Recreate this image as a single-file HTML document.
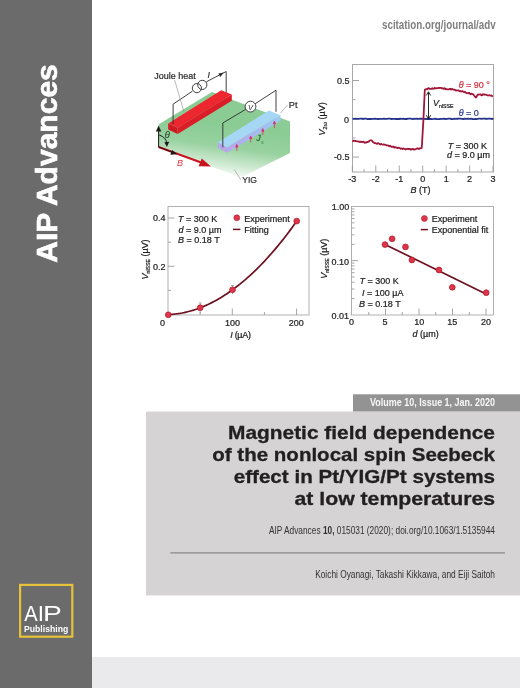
<!DOCTYPE html>
<html><head><meta charset="utf-8"><title>AIP Advances</title>
<style>
html,body{margin:0;padding:0;background:#fff;width:520px;height:688px;overflow:hidden}
svg{display:block}
text{font-family:"Liberation Sans",Arial,sans-serif}
.b{font-weight:bold}
.i{font-style:italic}
</style></head><body>
<svg width="520" height="688" viewBox="0 0 520 688">
<rect x="0" y="0" width="520" height="688" fill="#ffffff"/>
<!-- sidebar -->
<rect x="0" y="0" width="92" height="688" fill="#6b6b6b"/>
<text class="b" transform="translate(57 262.8) rotate(-90)" font-size="29" fill="#ffffff" stroke="#ffffff" stroke-width="0.6" textLength="198.6" lengthAdjust="spacingAndGlyphs">AIP Advances</text>
<!-- logo -->
<rect x="20.1" y="584.9" width="52.2" height="51.8" fill="none" stroke="#e6c23a" stroke-width="2.2"/>
<g fill="#ffffff" font-size="22.6"><text x="24.2" y="621.3" textLength="13.4" lengthAdjust="spacingAndGlyphs">A</text><text x="37.8" y="621.3">I</text><text x="42.9" y="621.3" textLength="18.8" lengthAdjust="spacingAndGlyphs">P</text></g>
<text class="b" x="24" y="631.7" font-size="9.6" fill="#ffffff" textLength="44.3" lengthAdjust="spacingAndGlyphs">Publishing</text>
<!-- header url -->
<text class="b" x="382" y="29.4" font-size="12.3" fill="#808080" textLength="113.7" lengthAdjust="spacingAndGlyphs">scitation.org/journal/adv</text>
<!-- bottom strip -->
<rect x="92" y="657" width="428" height="31" fill="#eaeaec"/>
<!-- banner -->
<rect x="353" y="394.3" width="167" height="17.4" fill="#939393"/>
<text class="b" x="370" y="406.3" font-size="10.6" fill="#f7f7f7" textLength="125" lengthAdjust="spacingAndGlyphs">Volume 10, Issue 1, Jan. 2020</text>
<!-- box -->
<rect x="146" y="411.6" width="374" height="183.8" fill="#d5d3d4"/>
<g class="b" fill="#231f20" stroke="#231f20" stroke-width="0.3" font-size="18.2">
<text x="228" y="439" textLength="267" lengthAdjust="spacingAndGlyphs">Magnetic field dependence</text>
<text x="212.3" y="461.1" textLength="282.7" lengthAdjust="spacingAndGlyphs">of the nonlocal spin Seebeck</text>
<text x="233.7" y="483.3" textLength="261.3" lengthAdjust="spacingAndGlyphs">effect in Pt/YIG/Pt systems</text>
<text x="294.5" y="505.3" textLength="200.5" lengthAdjust="spacingAndGlyphs">at low temperatures</text>
</g>
<text x="268.9" y="534.2" font-size="10.6" fill="#333333" textLength="226.1" lengthAdjust="spacingAndGlyphs">AIP Advances <tspan class="b">10,</tspan> 015031 (2020); doi.org/10.1063/1.5135944</text>
<line x1="170.4" y1="552.8" x2="505" y2="552.8" stroke="#8a8a8a" stroke-width="1.3"/>
<text x="315.2" y="577.9" font-size="10" fill="#333333" textLength="179.8" lengthAdjust="spacingAndGlyphs">Koichi Oyanagi, Takashi Kikkawa, and Eiji Saitoh</text>
<!-- FIGURES -->
<defs>
<linearGradient id="gslab" gradientUnits="userSpaceOnUse" x1="250" y1="130" x2="243" y2="180">
<stop offset="0" stop-color="#8bcc95"/><stop offset="0.4" stop-color="#98d2a0"/><stop offset="0.76" stop-color="#d2ebd5"/><stop offset="1" stop-color="#ffffff"/>
</linearGradient>
<linearGradient id="gpt" gradientUnits="userSpaceOnUse" x1="227" y1="0" x2="281" y2="0">
<stop offset="0" stop-color="#b7a8ea"/><stop offset="0.5" stop-color="#a9b8ee"/><stop offset="1" stop-color="#9ccaf2"/>
</linearGradient>
</defs>
<!-- YIG slab -->
<polygon points="158.8,124.2 212,92 290,121.5 290,153 241,177.4 158,147" fill="url(#gslab)"/>
<!-- Joule heater bar -->
<polygon points="168.2,123.4 221.2,90.2 231.8,94.4 177.6,127.8" fill="#ee2630"/>
<polygon points="177.6,127.8 231.8,94.4 231.8,100.8 177.6,134" fill="#dc1c26"/>
<polygon points="168.2,123.4 177.6,127.8 177.6,134 168.2,129.6" fill="#d01a22"/>
<!-- Pt bar -->
<polygon points="217.8,142.4 269,110.4 280.5,115.2 227,147.4" fill="#a6d7f5"/>
<polygon points="227,147.4 280.5,115.2 280.5,120.8 227,152.8" fill="url(#gpt)"/>
<polygon points="217.8,142.4 227,147.4 227,152.8 217.8,147.8" fill="#b7a6e8"/>
<!-- Js arrows -->
<g stroke="#d6336e" stroke-width="0.8" fill="#d6336e">
<path d="M236.8 150.8V146.2M250.7 142.4V137.8M262.8 135.2V130.4M274.4 128V123"/>
<path d="M235.6 147L236.8 144.4L238 147ZM249.5 138.6L250.7 136L251.9 138.6ZM261.6 131.2L262.8 128.6L264 131.2ZM273.2 123.8L274.4 121.2L275.6 123.8Z"/>
</g>
<text x="256.6" y="141" font-size="8.2" fill="#2a6e2e" stroke="#2a6e2e" stroke-width="0.3" class="i">J</text>
<text x="261.2" y="143.6" font-size="4.8" fill="#2f7a34" class="i">s</text>
<!-- wires -->
<g fill="none" stroke="#2b2b2b" stroke-width="0.9">
<path d="M173.1 124V104.2L192.4 91.2"/>
<path d="M206.4 81.8L226.2 71.5V92.5"/>
<circle cx="196.9" cy="88.1" r="4.6"/>
<circle cx="202.3" cy="84.9" r="4.6"/>
<path d="M222.8 147.3V123L245.8 109.3"/>
<path d="M255.2 103.8L276 90.2V111.8"/>
<circle cx="250.5" cy="106.6" r="5.4" fill="#fff"/>
</g>
<path d="M223.8 72.4L218.4 73.6L220.2 76.9Z" fill="#2b2b2b"/>
<text x="248.1" y="109.6" font-size="7.5" class="i" fill="#2b2b2b">V</text>
<!-- leader lines -->
<g stroke="#8a8a8a" stroke-width="0.6" fill="none">
<path d="M174.6 80L184 112"/>
<path d="M280.5 113L287.5 105"/>
<path d="M234.3 169.6L240.8 179.8"/>
</g>
<!-- axes / B arrow -->
<g fill="none" stroke="#1a1a1a" stroke-width="1">
<path d="M158.6 147V130.5"/>
<path d="M159.2 135Q166.5 137.5 166.8 143.5"/>
</g>
<path d="M155.9 131.6L158.6 125.6L161.3 131.6Z" fill="#1a1a1a"/>
<path d="M164.4 142.2L166.9 147L169.2 141.8Z" fill="#1a1a1a"/>
<path d="M158.6 147L202.5 163" stroke="#c8141f" stroke-width="2.1" fill="none"/>
<path d="M211 166.4L198.6 166.2L201.8 158.4Z" fill="#c8141f"/>
<path d="M158.6 147L172 152" stroke="#4a0a0e" stroke-width="1.3" fill="none"/>
<path d="M177.4 154.2L170.3 154.8L172 150Z" fill="#1a1a1a"/>
<text x="164.8" y="137.6" font-size="9.4" class="i" fill="#1f2a1f">θ</text>
<text x="177" y="165.8" font-size="9" class="i" fill="#e0313c">B</text>
<!-- labels -->
<g font-size="8.6" fill="#2b2b2b" stroke="#2b2b2b" stroke-width="0.2">
<text x="154.3" y="78.8" textLength="41.5" lengthAdjust="spacingAndGlyphs">Joule heat</text>
<text x="207.5" y="78.3" class="i">I</text>
<text x="288.8" y="107.8" font-size="9.3">Pt</text>
<text x="242.2" y="182.8" font-size="8.9" textLength="14.8" lengthAdjust="spacingAndGlyphs">YIG</text>
</g>

<g fill="none" stroke="#a8a8a8" stroke-width="1"><rect x="352.5" y="64.5" width="141" height="107.5"/></g>
<path d="M352.5 80.5h6.5 M352.5 118.8h6.5 M352.5 157.1h6.5 M352.5 99.65h3 M352.5 137.95h3 M352.35 172v-6.5 M375.8 172v-6.5 M399.25 172v-6.5 M422.7 172v-6.5 M446.15 172v-6.5 M469.6 172v-6.5 M493.05 172v-6.5 M364.07 172v-3 M387.52 172v-3 M410.97 172v-3 M434.43 172v-3 M457.88 172v-3 M481.32 172v-3" stroke="#9c9c9c" stroke-width="0.9" fill="none"/>
<polyline fill="none" stroke="#27338a" stroke-width="1.8" points="352.5,118.67 354,118.82 355.5,118.73 357,118.85 358.5,118.86 360,118.58 361.5,118.56 363,118.97 364.5,118.68 366,118.67 367.5,119.05 369,118.79 370.5,118.97 372,118.79 373.5,118.87 375,118.63 376.5,118.87 378,118.98 379.5,118.81 381,118.92 382.5,118.89 384,118.58 385.5,118.93 387,118.85 388.5,118.7 390,118.57 391.5,118.98 393,118.79 394.5,118.91 396,118.99 397.5,118.91 399,119.01 400.5,118.75 402,118.95 403.5,118.77 405,119.02 406.5,118.99 408,118.6 409.5,118.62 411,118.66 412.5,119.03 414,118.77 415.5,118.86 417,118.7 418.5,118.8 420,118.74 421.5,118.73 423,118.84 424.5,118.84 426,119 427.5,118.89 429,119.01 430.5,118.98 432,119.05 433.5,118.89 435,118.63 436.5,118.98 438,119.03 439.5,119 441,118.83 442.5,118.91 444,118.66 445.5,118.97 447,118.84 448.5,118.69 450,118.58 451.5,118.98 453,119.04 454.5,118.59 456,118.95 457.5,118.76 459,118.63 460.5,118.7 462,118.93 463.5,118.99 465,118.57 466.5,118.86 468,118.57 469.5,118.91 471,118.72 472.5,118.99 474,119.04 475.5,118.8 477,119.05 478.5,118.7 480,118.59 481.5,118.85 483,118.57 484.5,118.65 486,118.75 487.5,118.86 489,118.63 490.5,118.57 492,118.98 493.5,118.71"/>
<polyline fill="none" stroke="#a0173a" stroke-width="1.8" stroke-linejoin="round" points="352.35,141 353.17,141.06 353.99,140.61 354.81,140.82 355.63,141 356.45,141.26 357.27,141.33 358.1,141.41 358.92,141.6 359.74,142.07 360.56,141.7 361.38,141.74 362.2,142.17 363.02,141.75 363.84,141.94 364.66,142.8 365.48,142.41 366.3,142.55 367.12,142 367.94,142 368.77,141.74 369.59,140.55 370.41,140.46 371.23,140.41 372.05,140.63 372.87,141.99 373.69,142.4 374.51,143.21 375.33,143.05 376.15,143.58 376.97,143.75 377.79,143.09 378.61,143.27 379.43,144.08 380.26,144.53 381.08,143.88 381.9,144.24 382.72,144.53 383.54,144.36 384.36,144.6 385.18,144.75 386,145.02 386.82,145.48 387.64,145.36 388.46,145.66 389.28,146.3 390.1,145.69 390.93,146.49 391.75,146.89 392.57,146.63 393.39,146.74 394.21,147.59 395.03,147.17 395.85,147.33 396.67,147.73 397.49,148.15 398.31,147.61 399.13,147.98 399.95,148.11 400.77,148.78 401.6,148.47 402.42,149.05 403.24,148.42 404.06,148.73 404.88,149.2 405.7,149.53 406.52,149.06 407.34,148.82 408.16,148.71 408.98,149.17 409.8,148.81 410.62,149.5 411.44,149.54 412.26,148.83 413.09,148.94 413.91,149.53 414.73,149.33 415.55,149.4 416.37,148.79 417.19,148.44 418.01,148.51 418.83,148.96 419.65,148.28 420.47,148.34 420.71,148.28 420.94,148.22 421.18,148.16 421.41,148.09 421.64,148.03 421.88,146 422.11,142 422.35,138 422.58,134 422.82,130 423.05,126 423.29,122 423.52,117.47 423.76,112.4 423.99,107.33 424.22,102.27 424.46,97.2 424.69,92.13 424.93,89.56 425.16,89.32 425.4,89.33 425.63,89.26 426.45,88.99 427.27,89.3 428.09,88.33 428.91,88.06 429.74,88.98 430.56,88.81 431.38,88.89 432.2,88.23 433.02,88.76 433.84,88.69 434.66,87.87 435.48,88.4 436.3,88.46 437.12,88.22 437.94,88.02 438.76,87.85 439.58,87.98 440.4,87.94 441.23,87.84 442.05,88.5 442.87,88.24 443.69,88.9 444.51,88.14 445.33,89.16 446.15,89.01 446.97,89.34 447.79,89.39 448.61,89.47 449.43,89.2 450.25,88.66 451.07,89.54 451.9,88.99 452.72,89.21 453.54,89.71 454.36,89.74 455.18,89.81 456,90.58 456.82,90.4 457.64,90.29 458.46,90.39 459.28,91.24 460.1,91.01 460.92,91.53 461.74,91.25 462.56,91.27 463.39,91.83 464.21,92.33 465.03,91.8 465.85,92.69 466.67,93.08 467.49,93.19 468.31,93.46 469.13,92.8 469.95,93.73 470.77,94.23 471.59,93.58 472.41,94.07 473.23,94.31 474.06,95.53 474.88,96.47 475.7,97.57 476.52,96.99 477.34,95.23 478.16,94.5 478.98,94.53 479.8,94.47 480.62,94.36 481.44,95.3 482.26,95.11 483.08,94.21 483.9,94.62 484.73,94.5 485.55,94.65 486.37,94.84 487.19,95.31 488.01,95.39 488.83,95.29 489.65,95.25 490.47,95.55 491.29,95.47 492.11,96.09 492.93,96.42"/>
<g stroke="#111" stroke-width="0.9" fill="none"><path d="M428.5 92.5V118"/><path d="M426.3 95.5L428.5 91.7L430.7 95.5M426.3 115.2L428.5 119L430.7 115.2"/></g>
<g font-size="9" fill="#222222" stroke="#222222" stroke-width="0.22" text-anchor="end"><text x="349.4" y="83.5">0.5</text><text x="348.9" y="122.6">0</text><text x="349.4" y="160">-0.5</text></g>
<g font-size="9" fill="#222222" stroke="#222222" stroke-width="0.22" text-anchor="middle"><text x="352.35" y="182">-3</text><text x="375.8" y="182">-2</text><text x="399.25" y="182">-1</text><text x="422.7" y="182">0</text><text x="446.15" y="182">1</text><text x="469.6" y="182">2</text><text x="493.05" y="182">3</text></g>
<text x="410.6" y="193" font-size="9" fill="#222222" stroke="#222222" stroke-width="0.22"><tspan class="i">B</tspan> (T)</text>
<text transform="translate(325.4 135.4) rotate(-90)" font-size="9" fill="#222222" stroke="#222222" stroke-width="0.22"><tspan class="i">V</tspan><tspan font-size="5.5" dy="1.5">2ω</tspan><tspan dy="-1.5"> (µV)</tspan></text>
<text x="458.7" y="88" font-size="9" fill="#d22b3c" stroke="#d22b3c" stroke-width="0.2"><tspan class="i">θ</tspan> = 90 °</text>
<text x="458.7" y="115.8" font-size="9" fill="#27338a" stroke="#27338a" stroke-width="0.2"><tspan class="i">θ</tspan> = 0</text>
<text x="433" y="105.6" font-size="9" fill="#222222" stroke="#222222" stroke-width="0.22"><tspan class="i">V</tspan><tspan font-size="5.2" dy="2.4">nlSSE</tspan></text>
<text x="447.7" y="148.8" font-size="9" fill="#222222" stroke="#222222" stroke-width="0.22"><tspan class="i">T</tspan> = 300 K</text>
<text x="447" y="158" font-size="9" fill="#222222" stroke="#222222" stroke-width="0.22"><tspan class="i">d</tspan> = 9.0 µm</text>
<rect x="168" y="206.5" width="141" height="108.5" fill="none" stroke="#a8a8a8" stroke-width="0.9"/>
<path d="M168 266.3h6.5 M168 218h6.5 M168 290.45h3 M168 242.15h3 M232.3 315v-6.5 M296.6 315v-6.5 M200.15 315v-3 M264.45 315v-3" stroke="#9c9c9c" stroke-width="0.9" fill="none"/>
<polyline fill="none" stroke="#6e1020" stroke-width="1.7" points="169.29,314.54 171.41,314.4 173.53,314.21 175.65,313.97 177.77,313.69 179.9,313.36 182.02,312.98 184.14,312.55 186.26,312.07 188.38,311.55 190.5,310.98 192.63,310.36 194.75,309.69 196.87,308.98 198.99,308.21 201.11,307.4 203.24,306.54 205.36,305.64 207.48,304.68 209.6,303.68 211.72,302.63 213.85,301.53 215.97,300.39 218.09,299.19 220.21,297.95 222.33,296.66 224.46,295.33 226.58,293.94 228.7,292.51 230.82,291.03 232.94,289.5 235.06,287.92 237.19,286.3 239.31,284.63 241.43,282.91 243.55,281.14 245.67,279.32 247.8,277.46 249.92,275.55 252.04,273.59 254.16,271.58 256.28,269.52 258.41,267.42 260.53,265.27 262.65,263.07 264.77,260.82 266.89,258.53 269.02,256.19 271.14,253.8 273.26,251.36 275.38,248.87 277.5,246.34 279.62,243.76 281.75,241.13 283.87,238.45 285.99,235.73 288.11,232.95 290.23,230.13 292.36,227.26 294.48,224.35 296.6,221.38"/>
<g stroke="#888" stroke-width="0.7"><path d="M200.2 302.9V313.5M198.8 302.9h2.8M232.5 285.6V294M231.1 285.6h2.8"/></g>
<circle cx="168.3" cy="314.8" r="2.9" fill="#e0344a" stroke="#a8192b" stroke-width="0.7"/>
<circle cx="200.2" cy="307.7" r="2.9" fill="#e0344a" stroke="#a8192b" stroke-width="0.7"/>
<circle cx="232.5" cy="289.8" r="2.9" fill="#e0344a" stroke="#a8192b" stroke-width="0.7"/>
<circle cx="296.7" cy="221.1" r="2.9" fill="#e0344a" stroke="#a8192b" stroke-width="0.7"/>
<g font-size="9" fill="#222222" stroke="#222222" stroke-width="0.22" text-anchor="end"><text x="165.6" y="221.4">0.4</text><text x="165.5" y="269.6">0.2</text></g>
<g font-size="9" fill="#222222" stroke="#222222" stroke-width="0.22" text-anchor="middle"><text x="162.5" y="325.7">0</text><text x="232.6" y="325.8">100</text><text x="296.3" y="325.8">200</text></g>
<text x="230.2" y="338.3" font-size="9" fill="#222222" stroke="#222222" stroke-width="0.22" textLength="20.8" lengthAdjust="spacing"><tspan class="i">I</tspan> (µA)</text>
<text transform="translate(147.6 279.5) rotate(-90)" font-size="9" fill="#222222" stroke="#222222" stroke-width="0.22"><tspan class="i">V</tspan><tspan font-size="5.2" dy="2.0">nlSSE</tspan><tspan dy="-2.0"> (µV)</tspan></text>
<g font-size="9" fill="#222222" stroke="#222222" stroke-width="0.22"><text x="178" y="222.2"><tspan class="i">T</tspan> = 300 K</text><text x="178.5" y="232.5"><tspan class="i">d</tspan> = 9.0 µm</text><text x="178" y="243.3"><tspan class="i">B</tspan> = 0.18 T</text></g>
<circle cx="236.8" cy="217.8" r="3" fill="#e0344a" stroke="#a31d2a" stroke-width="0.5"/>
<path d="M233 229.4H240.4" stroke="#6e1020" stroke-width="1.5"/>
<g font-size="9" fill="#222222" stroke="#222222" stroke-width="0.22"><text x="244.2" y="221.6">Experiment</text><text x="244.2" y="232.9">Fitting</text></g>
<rect x="351.5" y="206.5" width="142" height="108.5" fill="none" stroke="#a8a8a8" stroke-width="0.9"/>
<path d="M351.5 260.65h6.5 M351.5 298.5h3 M351.5 288.96h3 M351.5 282.2h3 M351.5 276.95h3 M351.5 272.66h3 M351.5 269.04h3 M351.5 265.9h3 M351.5 263.13h3 M351.5 244.35h3 M351.5 234.81h3 M351.5 228.05h3 M351.5 222.8h3 M351.5 218.51h3 M351.5 214.89h3 M351.5 211.75h3 M351.5 208.98h3 M385.5 315v-6.5 M419 315v-6.5 M452.5 315v-6.5 M486 315v-6.5 M368.75 315v-3 M402.25 315v-3 M435.75 315v-3 M469.25 315v-3" stroke="#9c9c9c" stroke-width="0.9" fill="none"/>
<path d="M385 244.4L486 294" stroke="#6e1020" stroke-width="1.7"/>
<circle cx="385" cy="244.6" r="2.9" fill="#e0344a" stroke="#a8192b" stroke-width="0.7"/>
<circle cx="392.1" cy="238.8" r="2.9" fill="#e0344a" stroke="#a8192b" stroke-width="0.7"/>
<circle cx="405.5" cy="246.9" r="2.9" fill="#e0344a" stroke="#a8192b" stroke-width="0.7"/>
<circle cx="411.9" cy="260" r="2.9" fill="#e0344a" stroke="#a8192b" stroke-width="0.7"/>
<circle cx="439" cy="270" r="2.9" fill="#e0344a" stroke="#a8192b" stroke-width="0.7"/>
<circle cx="452.3" cy="287.3" r="2.9" fill="#e0344a" stroke="#a8192b" stroke-width="0.7"/>
<circle cx="486.2" cy="292.7" r="2.9" fill="#e0344a" stroke="#a8192b" stroke-width="0.7"/>
<g font-size="9" fill="#222222" stroke="#222222" stroke-width="0.22" text-anchor="end"><text x="349.4" y="209.6">1.00</text><text x="349" y="264.6">0.10</text><text x="349" y="318.6">0.01</text></g>
<g font-size="9" fill="#222222" stroke="#222222" stroke-width="0.22" text-anchor="middle"><text x="351.5" y="325.2">0</text><text x="385" y="325.2">5</text><text x="419.2" y="325.2">10</text><text x="452.3" y="325.2">15</text><text x="486" y="325.2">20</text></g>
<text x="412.5" y="337" font-size="9" fill="#222222" stroke="#222222" stroke-width="0.22"><tspan class="i">d</tspan> (µm)</text>
<text transform="translate(326.9 278.8) rotate(-90)" font-size="9" fill="#222222" stroke="#222222" stroke-width="0.22"><tspan class="i">V</tspan><tspan font-size="5.2" dy="2.0">nlSSE</tspan><tspan dy="-2.0"> (µV)</tspan></text>
<g font-size="9" fill="#222222" stroke="#222222" stroke-width="0.22"><text x="359.6" y="283.5"><tspan class="i">T</tspan> = 300 K</text><text x="362" y="295.6"><tspan class="i">I</tspan> = 100 µA</text><text x="359" y="307.1"><tspan class="i">B</tspan> = 0.18 T</text></g>
<circle cx="424.4" cy="218.5" r="3" fill="#e0344a" stroke="#a31d2a" stroke-width="0.5"/>
<path d="M420.8 229.6H427.9" stroke="#6e1020" stroke-width="1.5"/>
<g font-size="9" fill="#222222" stroke="#222222" stroke-width="0.22"><text x="431.7" y="221.5">Experiment</text><text x="431.7" y="232.5">Exponential fit</text></g>
</svg>
</body></html>
